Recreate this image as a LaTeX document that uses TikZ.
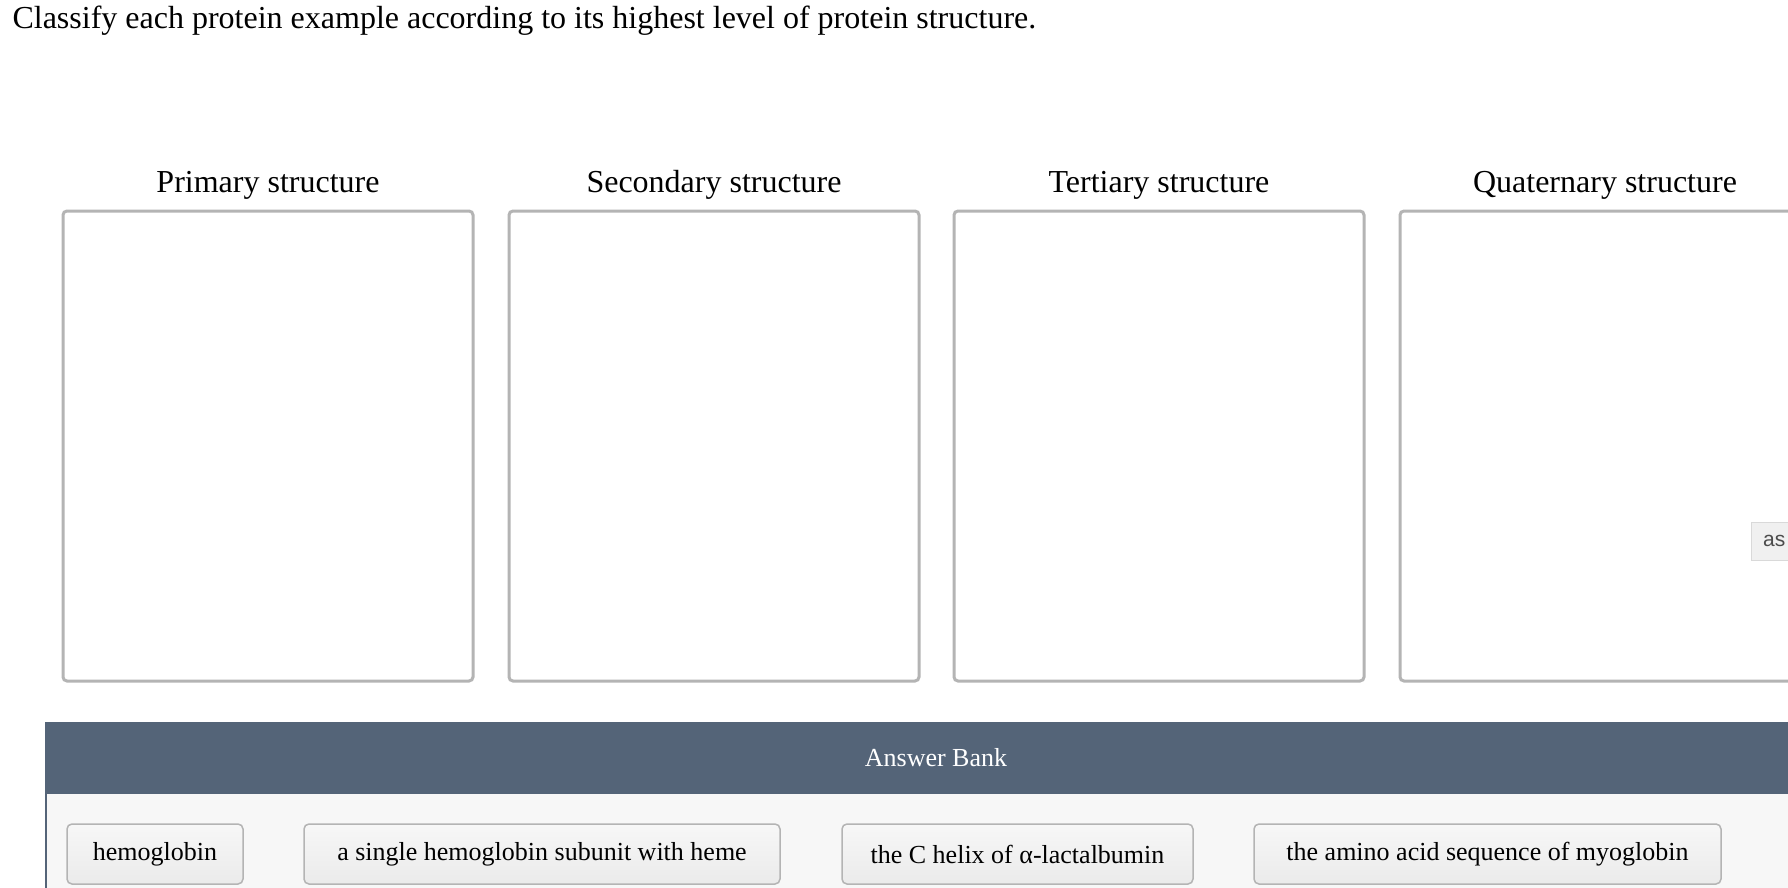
\documentclass[tikz,border=0pt]{standalone}
\usepackage{fontspec}
\setmainfont{Liberation Serif}
\newfontfamily\uisans{Liberation Sans}
\definecolor{bankhd}{HTML}{546478}
\definecolor{bankbg}{HTML}{F7F7F7}
\definecolor{boxln}{HTML}{B4B4B4}
\begin{document}
\begin{tikzpicture}[x=1pt,y=-1pt,
  drop/.style={draw=boxln,line width=3pt,rounded corners=4pt},
  head/.style={font=\fontsize{32}{36}\selectfont,anchor=center},
  chip/.style={draw=boxln,line width=1.5pt,rounded corners=5pt,top color=bankbg,bottom color=black!8,minimum height=60pt,font=\fontsize{26}{30}\selectfont,inner xsep=14pt}]
\useasboundingbox (0,0) rectangle (1788,888);
\fill[white] (0,0) rectangle (1788,888);
\node[anchor=west,font=\fontsize{32}{36}\selectfont] (title) at (9,21) {Classify each protein example according to its highest level of protein structure.};
\foreach \n/\x/\t in {p/63/Primary structure,s/509/Secondary structure,t/954/Tertiary structure,q/1400/Quaternary structure}{
  \draw[drop] (\x,211) rectangle (\x+410,681);
  \node[head] (h\n) at (\x+205,185) {\t};
}
\node[draw=black!15,fill=black!6,anchor=west,minimum height=38pt,inner xsep=12pt,font=\uisans\fontsize{21}{24}\selectfont\color{black!70},drop shadow/.try] (as) at (1751,541) {as};
\fill[bankbg] (46,794) rectangle (1788,888);
\fill[bankhd] (46,722) rectangle (1788,794);
\draw[bankhd,line width=1.5pt] (46,722) -- (46,888);
\node[white,font=\fontsize{26}{30}\selectfont] (ab) at (936,758) {Answer Bank};
\node[chip,minimum width=176pt] (c1) at (155,854) {hemoglobin};
\node[chip,minimum width=476pt] (c2) at (542,854) {a single hemoglobin subunit with heme};
\node[chip,minimum width=351pt] (c3) at (1017.5,854) {the C helix of α-lactalbumin};
\node[chip,minimum width=467pt] (c4) at (1487.5,854) {the amino acid sequence of myoglobin};
\end{tikzpicture}
\end{document}
